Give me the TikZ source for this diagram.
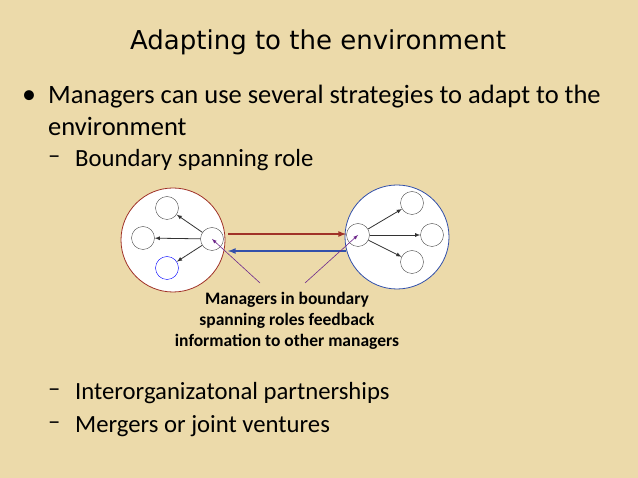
\documentclass[tikz,border=0pt]{standalone}
\usepackage{fontspec}
\setmainfont{Carlito}
\newfontfamily\titlefont{DejaVu Sans}
\definecolor{paper}{RGB}{236,218,170}
\definecolor{orgred}{RGB}{160,50,40}
\definecolor{orgblue}{RGB}{50,80,170}
\definecolor{feedpurple}{RGB}{110,40,140}
\begin{document}
\begin{tikzpicture}[x=1pt, y=-1pt,
  org/.style={circle, draw, fill=white, minimum size=104pt, inner sep=0pt},
  unit/.style={circle, draw=black!70, fill=white, minimum size=23pt, inner sep=0pt},
  link/.style={->, >=latex, black!80, thick},
  flow/.style={->, >=latex, line width=1.6pt},
  bullet/.style={anchor=west, inner sep=0pt, font=\fontsize{26.5}{30}\selectfont},
  subbullet/.style={anchor=west, inner sep=0pt, font=\fontsize{24.7}{30}\selectfont}]
  \fill[paper] (0,0) rectangle (638,478);
  \node[font=\titlefont\fontsize{26}{30}\selectfont] (title) at (318,42) {Adapting to the environment};
  \node[bullet, font=\fontsize{28}{30}\selectfont] (b1) at (22,97) {•};
  \node[bullet] (l1) at (48,97) {Managers can use several strategies to adapt to the};
  \node[bullet] (l2) at (48,126) {environment};
  \node[subbullet] (d3) at (48,160) {–};
  \node[subbullet] (l3) at (75,160) {Boundary spanning role};
  \node[subbullet] (d4) at (48,393) {–};
  \node[subbullet] (l4) at (75,393) {Interorganizatonal partnerships};
  \node[subbullet] (d5) at (48,426) {–};
  \node[subbullet] (l5) at (75,426) {Mergers or joint ventures};
  % left organization
  \node[org, draw=orgred, thick] (orgA) at (173,240) {};
  \node[unit] (a1) at (167,208) {};
  \node[unit] (a2) at (143,238) {};
  \node[unit, draw=blue] (a3) at (167,268) {};
  \node[unit] (ahub) at (212,239) {};
  \draw[link] (ahub) -- (a1);
  \draw[link] (ahub) -- (a2);
  \draw[link] (ahub) -- (a3);
  % right organization
  \node[org, draw=orgblue, thick] (orgB) at (397,237) {};
  \node[unit] (bhub) at (358,235) {};
  \node[unit] (b1u) at (412,203) {};
  \node[unit] (b2u) at (432,235) {};
  \node[unit] (b3u) at (412,262) {};
  \draw[link] (bhub) -- (b1u);
  \draw[link] (bhub) -- (b2u);
  \draw[link] (bhub) -- (b3u);
  % exchange between organizations
  \coordinate (redA) at (228,234);
  \coordinate (redB) at (346,234);
  \coordinate (blueB) at (346,251);
  \coordinate (blueA) at (228,251);
  \draw[flow, orgred] (redA) -- (redB);
  \draw[flow, orgblue] (blueB) -- (blueA);
  % feedback note
  \node[align=center, font=\bfseries\fontsize{17.5}{21}\selectfont] (note) at (287,321)
    {Managers in boundary\\spanning roles feedback\\information to other managers};
  \coordinate (tailA) at (260,283);
  \coordinate (tailB) at (305,283);
  \draw[->, >=latex, feedpurple, semithick] (tailA) -- (ahub.center);
  \draw[->, >=latex, feedpurple, semithick] (tailB) -- (bhub.center);
\end{tikzpicture}
\end{document}
